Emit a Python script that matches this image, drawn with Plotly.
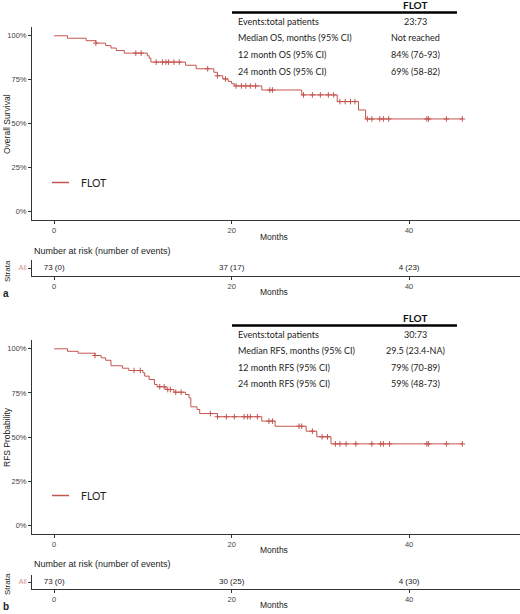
import plotly.graph_objects as go

W, H = 520, 614

MONTH_TICKS = [0, 20, 40]
SURV_TICKS = [0, 0.25, 0.5, 0.75, 1.0]
SURV_TICK_TEXT = ["0%", "25%", "50%", "75%", "100%"]

# Overall survival (panel a): step times and survival after each step
os_step_months = [0, 1.5, 3.6, 4.7, 5.8, 6.4, 7.0, 7.9, 10.5, 10.7, 10.9, 14.8, 16.0,
                  18.0, 18.4, 19.0, 19.6, 20.0, 20.3, 23.4, 27.9, 31.9, 34.3, 35.1, 46.0]
os_step_surv = [1.0, 0.986, 0.972, 0.958, 0.944, 0.930, 0.916, 0.901, 0.886, 0.872, 0.850,
                0.832, 0.812, 0.792, 0.772, 0.754, 0.740, 0.727, 0.714, 0.691, 0.663,
                0.625, 0.577, 0.526, 0.526]
os_censor_months = [4.7, 9.2, 9.8, 11.5, 12.2, 12.6, 12.9, 13.5, 14.1, 17.3, 18.4, 19.3,
                    20.5, 21.1, 21.6, 22.1, 22.7, 24.3, 24.6, 28.1, 29.1, 30.0, 30.9,
                    31.5, 32.2, 32.8, 33.4, 33.9, 35.3, 35.8, 36.7, 37.1, 37.7, 42.0,
                    42.2, 44.2, 46.0]

# Relapse-free survival (panel b)
rfs_step_months = [0, 1.5, 2.7, 4.6, 5.3, 5.8, 6.4, 7.7, 8.4, 10.0, 10.2, 10.7, 11.3,
                   11.6, 12.6, 13.5, 14.8, 15.2, 15.4, 16.1, 16.4, 18.4, 23.4, 24.9,
                   28.4, 29.6, 31.2, 46.0]
rfs_step_surv = [1.0, 0.986, 0.975, 0.962, 0.949, 0.935, 0.904, 0.890, 0.877, 0.864,
                 0.845, 0.826, 0.798, 0.785, 0.769, 0.754, 0.741, 0.722, 0.671, 0.656,
                 0.633, 0.615, 0.590, 0.561, 0.533, 0.501, 0.461, 0.461]
rfs_censor_months = [4.6, 9.0, 9.7, 11.9, 12.4, 12.8, 13.1, 13.7, 14.3, 17.6, 18.4,
                     19.4, 20.3, 21.4, 21.8, 22.1, 22.9, 24.2, 24.6, 27.6, 27.9, 29.1,
                     30.2, 30.8, 31.7, 32.2, 32.9, 34.0, 35.8, 36.8, 37.1, 37.8, 42.0,
                     42.2, 44.2, 46.0]

risk_months = [0, 20, 40]
os_risk_text = ["73 (0)", "37 (17)", "4 (23)"]
rfs_risk_text = ["73 (0)", "30 (25)", "4 (30)"]

os_table_labels = ["Events:total patients", "Median OS, months (95% CI)",
                   "12 month OS (95% CI)", "24 month OS (95% CI)"]
os_table_values = ["23:73", "Not reached", "84% (76-93)", "69% (58-82)"]
rfs_table_labels = ["Events:total patients", "Median RFS, months (95% CI)",
                    "12 month RFS (95% CI)", "24 month RFS (95% CI)"]
rfs_table_values = ["30:73", "29.5 (23.4-NA)", "79% (70-89)", "59% (48-73)"]

RED = "#C4544F"
AXIS_FONT = "Liberation Sans, Arial, sans-serif"
TABLE_FONT = "Lato, Calibri, sans-serif"


def surv_at(months, surv, t):
    val = surv[0]
    for m, s in zip(months, surv):
        if m <= t:
            val = s
    return val


def px(x):
    return x / W


def py(y):
    return 1 - y / H


fig = go.Figure()

panels = [
    # (step months, surv, censors, risk text, main axes, risk axes)
    (os_step_months, os_step_surv, os_censor_months, os_risk_text, "", "2"),
    (rfs_step_months, rfs_step_surv, rfs_censor_months, rfs_risk_text, "3", "4"),
]

for months, surv, censors, risk_text, ax, rax in panels:
    fig.add_trace(go.Scatter(
        x=months, y=surv, mode="lines", line=dict(color=RED, width=1, shape="hv"),
        xaxis="x" + ax, yaxis="y" + ax, showlegend=False, hoverinfo="skip",
    ))
    fig.add_trace(go.Scatter(
        x=censors, y=[surv_at(months, surv, t) for t in censors], mode="markers",
        marker=dict(symbol="cross-thin", size=4, line=dict(color=RED, width=1)),
        xaxis="x" + ax, yaxis="y" + ax, showlegend=False, hoverinfo="skip",
    ))
    fig.add_trace(go.Scatter(
        x=risk_months, y=[1] * len(risk_months), mode="text", text=risk_text,
        textfont=dict(size=8, color="#222222", family=AXIS_FONT),
        xaxis="x" + rax, yaxis="y" + rax, showlegend=False, hoverinfo="skip",
    ))

common_x = dict(
    range=[-2.5, 52.5], tickvals=MONTH_TICKS, showline=True, linecolor="#333333",
    linewidth=1, ticks="outside", ticklen=3, tickcolor="#333333", showgrid=False,
    zeroline=False, tickfont=dict(size=7.5, color="#444444", family=AXIS_FONT),
    domain=[px(32), 1],
)
common_y = dict(
    showline=True, linecolor="#333333", linewidth=1, ticks="outside", ticklen=3,
    tickcolor="#333333", showgrid=False, zeroline=False,
    tickfont=dict(size=7.5, color="#444444", family=AXIS_FONT),
)

layout = dict(
    width=W, height=H, margin=dict(l=0, r=0, t=0, b=0),
    paper_bgcolor="white", plot_bgcolor="white", showlegend=False,
)
# main survival axes
for ax, top, bottom in [("", 27, 220), ("3", 340, 534)]:
    layout["xaxis" + ax] = dict(common_x, anchor="y" + ax)
    layout["yaxis" + ax] = dict(
        common_y, anchor="x" + ax, range=[-0.05, 1.05], tickvals=SURV_TICKS,
        ticktext=SURV_TICK_TEXT, domain=[py(bottom), py(top)],
    )
# risk table axes
for ax, top, bottom in [("2", 260, 276), ("4", 575, 589)]:
    layout["xaxis" + ax] = dict(common_x, anchor="y" + ax)
    layout["yaxis" + ax] = dict(
        common_y, anchor="x" + ax, range=[0.5, 1.5], tickvals=[1], ticktext=["All"],
        tickfont=dict(size=7, color="#D48F8F", family=AXIS_FONT),
        domain=[py(bottom), py(top)],
    )
fig.update_layout(**layout)

annotations = []
shapes = []


def note(x, y, text, size, xanchor="center", font=AXIS_FONT, color="#222222",
         textangle=0, bold=False):
    if bold:
        text = "<b>" + text + "</b>"
    annotations.append(dict(
        x=px(x), y=py(y), xref="paper", yref="paper", text=text, showarrow=False,
        xanchor=xanchor, yanchor="middle", textangle=textangle,
        font=dict(size=size, family=font, color=color),
    ))


tables = [
    (os_table_labels, os_table_values, "Overall Survival", 0, "a"),
    (rfs_table_labels, rfs_table_values, "RFS Probability", 313, "b"),
]
for labels, values, ytitle, off, letter in tables:
    # summary table inside the plot
    note(415, 5 + off, "FLOT", 10, font=TABLE_FONT, color="#111111", bold=True)
    shapes.append(dict(type="line", xref="paper", yref="paper",
                       x0=px(232), x1=px(457), y0=py(12.5 + off), y1=py(12.5 + off),
                       line=dict(color="black", width=2.5)))
    row_y = [21, 37.5, 54, 71]
    for lab, val, ry in zip(labels, values, row_y):
        note(236, ry + off, lab, 9, xanchor="left", font=TABLE_FONT)
        note(415, ry + off, val, 9, font=TABLE_FONT)
    # legend
    shapes.append(dict(type="line", xref="paper", yref="paper",
                       x0=px(52), x1=px(69), y0=py(182.5 + off), y1=py(182.5 + off),
                       line=dict(color=RED, width=1.5)))
    note(79, 182.5 + off, "FLOT", 10.5, xanchor="left", font=TABLE_FONT)
    # axis titles
    note(7, 124 + off, ytitle, 8.5, textangle=-90)
    note(274, 237 + off, "Months", 8.5)
    note(32, 251 + off, "Number at risk (number of events)", 9, xanchor="left")
    note(7, 271 + off, "Strata", 8, textangle=-90)
    note(274, 291.5 + off, "Months", 8.5)
    note(6, 293 + off, letter, 10, bold=True)

fig.update_layout(annotations=annotations, shapes=shapes)
# drop the browser's default page margin so the figure fills the window
fig.write_html("out.html", config={"displayModeBar": False},
               post_script="document.body.style.margin='0';")
